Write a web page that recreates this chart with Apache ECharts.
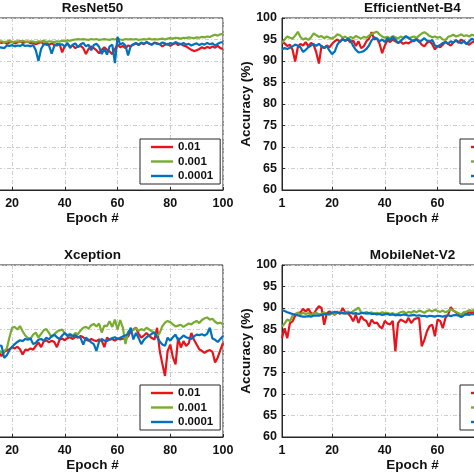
<!DOCTYPE html>
<html>
<head>
<meta charset="utf-8">
<script src="https://cdn.jsdelivr.net/npm/echarts@6.0.0/dist/echarts.min.js"></script>
<style>
html, body { margin: 0; padding: 0; background: #fff; }
#main { width: 474px; height: 474px; }
</style>
</head>
<body>
<div id="main"></div>
<script>
var epochs = [];
for (var e = 1; e <= 100; e++) epochs.push(e);

var lrNames = ['0.01', '0.001', '0.0001'];
var lrColors = ['#e8141c', '#77ac30', '#0072bd'];
var xTicks = [1, 20, 40, 60, 80, 100];
var panelTitles = ['ResNet50', 'EfficientNet-B4', 'Xception', 'MobileNet-V2'];

// ResNet50
var resnetRed = [
    93.5, 94.0, 93.8, 94.2, 93.6, 94.3, 94.0, 93.7, 94.4, 94.1,
    93.9, 94.5, 94.2, 94.0, 94.3, 94.2, 94.4, 94.0, 94.3, 94.5,
    94.1, 94.3, 94.6, 94.2, 94.4, 94.5, 94.1, 94.3, 93.9, 94.2,
    94.4, 94.0, 94.2, 93.8, 94.1, 93.8, 93.6, 94.0, 92.0, 93.5,
    94.1, 93.3, 93.6, 93.0, 93.4, 93.5, 93.0, 91.6, 92.8, 93.4,
    93.0, 92.5, 91.8, 92.6, 93.2, 92.6, 92.2, 91.6, 92.8, 93.8,
    93.2, 93.5, 93.0, 93.6, 93.4, 93.8, 94.1, 93.7, 94.2, 93.9,
    94.4, 94.0, 93.8, 94.3, 94.1, 93.9, 93.4, 93.8, 94.0, 93.5,
    93.9, 94.2, 93.7, 94.0, 93.6, 93.4, 93.0, 92.6, 92.3, 92.5,
    92.8, 93.2, 92.9, 93.3, 93.0, 93.4, 93.1, 93.5, 93.0, 92.8
];
var resnetGreen = [
    93.8, 94.1, 94.3, 94.2, 94.5, 94.3, 94.6, 94.4, 94.2, 94.5,
    94.7, 94.4, 94.6, 94.3, 94.5, 94.6, 94.4, 94.5, 94.7, 94.3,
    94.5, 94.6, 94.4, 94.7, 94.5, 94.4, 94.6, 94.5, 94.3, 94.6,
    94.5, 94.7, 94.4, 94.6, 94.5, 94.4, 94.6, 94.5, 94.7, 94.6,
    94.8, 94.7, 94.9, 95.0, 95.1, 95.0, 95.1, 95.0, 94.9, 95.1,
    95.0, 95.1, 94.9, 95.0, 95.1, 95.0, 94.9, 95.1, 95.0, 95.2,
    95.0, 94.9, 95.1, 95.0, 95.1, 95.0, 95.1, 94.9, 95.0, 95.1,
    95.0, 95.2, 95.0, 95.1, 95.0, 95.1, 95.2, 95.0, 95.2, 95.3,
    95.2, 95.4, 95.3, 95.2, 95.4, 95.3, 95.5, 95.4, 95.3, 95.5,
    95.4, 95.6, 95.5, 95.7, 95.6, 95.9, 96.1, 95.9, 96.2, 96.3
];
var resnetBlue = [
    92.8, 93.2, 93.0, 93.5, 93.3, 93.1, 93.6, 93.4, 93.2, 93.7,
    93.5, 93.3, 93.6, 93.4, 93.2, 93.1, 93.0, 93.6, 93.5, 93.7,
    93.4, 93.6, 93.5, 93.8, 93.5, 93.6, 93.4, 93.7, 92.5, 90.0,
    92.8, 93.9, 93.8, 93.6, 91.7, 93.5, 94.0, 93.8, 93.9, 93.3,
    94.2, 93.0, 93.8, 94.1, 93.2, 93.9, 94.2, 93.4, 93.8, 92.5,
    93.7, 94.0, 93.3, 91.6, 92.8, 91.5, 93.4, 93.8, 89.5, 95.6,
    93.8, 94.2, 93.6, 91.3, 93.5, 93.9, 94.2, 93.8, 94.3, 94.0,
    94.4, 94.1, 93.8, 94.2, 94.0, 93.9, 94.3, 94.1, 93.8, 94.2,
    94.0, 94.4, 94.1, 93.9, 94.2, 93.8, 94.0, 93.6, 93.9, 94.1,
    93.7, 94.0, 93.8, 94.2, 93.9, 94.1, 93.6, 94.0, 94.3, 94.4
];

// EfficientNet-B4
var effRed = [
    94.3, 94.1, 93.5, 93.8, 92.6, 89.9, 93.2, 94.0, 93.6, 94.4,
    93.4, 94.2, 93.8, 92.0, 89.4, 93.5, 93.0, 93.6, 93.2, 94.0,
    94.6, 95.0, 94.4, 95.2, 94.7, 95.0, 94.3, 94.8, 93.5, 94.6,
    93.0, 93.4, 94.6, 95.2, 96.7, 95.0, 95.3, 94.0, 91.8, 93.6,
    94.8, 94.4, 95.0, 94.6, 94.2, 94.5, 94.0, 94.3, 94.1, 94.5,
    94.8, 95.2, 94.6, 93.8, 93.4, 94.2, 94.6, 93.9, 92.7, 93.5,
    93.2, 93.8, 94.5, 94.0, 93.6, 94.3, 94.8, 94.2, 95.0, 94.4,
    94.1, 93.8, 94.3, 94.6, 94.0, 94.5, 94.2, 94.8, 94.3, 94.6,
    94.4, 94.9, 94.5, 94.2, 94.7, 94.3, 94.8, 94.5, 94.9, 94.6,
    94.8, 94.4, 95.0, 94.7, 94.5, 94.9, 94.6, 95.1, 94.8, 95.0
];
var effGreen = [
    94.2, 95.0, 95.7, 95.4, 95.2, 95.9, 96.8, 95.6, 95.0, 95.3,
    94.9, 95.5, 96.4, 96.0, 95.6, 95.8, 95.3, 95.7, 95.4, 95.2,
    95.6, 96.2, 96.0, 95.4, 95.7, 95.2, 95.6, 95.3, 95.8, 95.5,
    95.2, 95.6, 95.4, 95.9, 96.3, 96.6, 96.8, 96.2, 95.7, 95.4,
    95.6, 95.3, 95.8, 95.5, 95.2, 95.7, 95.4, 95.6, 95.3, 95.5,
    95.7, 95.4, 95.9, 96.4, 96.7, 96.3, 95.8, 95.5, 95.7, 95.4,
    95.6, 95.0, 94.9, 95.6, 95.8, 96.1, 95.7, 95.9, 96.2, 95.8,
    96.0, 95.7, 96.1, 95.9, 96.2, 95.8, 96.0, 96.3, 95.9, 96.1,
    96.0, 96.2, 95.9, 96.3, 96.1, 95.8, 96.2, 96.0, 96.4, 96.1,
    96.2, 95.9, 96.3, 96.0, 96.2, 96.4, 96.1, 96.3, 96.0, 96.2
];
var effBlue = [
    92.7, 93.0, 92.8, 93.1, 93.4, 93.8, 93.6, 93.2, 92.1, 92.6,
    93.2, 93.6, 93.9, 93.5, 94.0, 93.4, 93.0, 93.5, 92.4, 91.6,
    92.2, 93.8, 94.6, 95.0, 94.7, 95.2, 94.8, 93.5, 92.6, 92.0,
    92.1, 92.3, 92.8, 93.6, 94.8, 95.5, 95.2, 94.6, 95.0, 94.4,
    95.3, 94.8, 95.6, 95.0, 94.2, 94.7, 95.2, 95.8, 95.4, 94.9,
    94.6, 95.0, 94.4, 94.8, 95.3, 94.7, 94.5, 94.9, 93.6, 93.4,
    93.7, 94.2, 94.4, 94.0, 94.6, 94.3, 94.8, 94.5, 94.1, 94.7,
    93.9, 94.6, 95.2, 94.8, 94.5, 94.9, 94.6, 95.0, 94.7, 94.9,
    94.6, 95.1, 94.8, 94.5, 95.0, 94.7, 95.2, 94.9, 94.6, 95.0,
    94.8, 95.1, 94.7, 95.0, 94.9, 95.2, 94.8, 95.1, 94.9, 95.0
];

// Xception
var xcpRed = [
    75.0, 76.2, 77.1, 76.5, 77.8, 78.3, 77.6, 78.8, 79.4, 78.7,
    79.6, 80.3, 79.5, 80.6, 79.8, 78.8, 79.8, 80.1, 80.4, 80.9,
    80.6, 81.0, 80.4, 79.2, 80.3, 80.2, 80.6, 80.3, 81.2, 82.0,
    80.9, 82.2, 82.5, 82.0, 82.4, 82.1, 80.9, 82.6, 82.9, 82.5,
    83.0, 83.2, 82.8, 83.3, 83.1, 83.5, 83.2, 82.6, 82.4, 82.8,
    82.5, 82.3, 82.7, 82.4, 80.9, 83.1, 82.6, 82.8, 82.4, 82.9,
    82.7, 82.9, 82.9, 83.4, 84.6, 85.0, 85.4, 84.0, 83.1, 83.6,
    84.2, 83.5, 83.0, 82.7, 85.4, 80.0, 77.0, 74.2, 80.0, 81.5,
    78.5, 76.9, 83.1, 80.8, 82.3, 81.2, 81.8, 84.2, 82.6, 81.5,
    80.4, 80.0, 79.6, 80.0, 80.2, 79.8, 77.3, 78.5, 80.2, 81.9
];
var xcpGreen = [
    74.5, 76.0, 77.2, 76.8, 78.0, 77.5, 78.6, 79.2, 78.4, 79.5,
    80.1, 79.3, 80.4, 79.8, 80.2, 79.6, 80.0, 80.6, 83.2, 85.4,
    85.6, 85.0, 85.8, 84.6, 83.6, 83.0, 82.9, 83.8, 84.3, 83.1,
    84.0, 84.8, 85.1, 84.2, 83.2, 83.9, 84.5, 84.8, 85.0, 84.1,
    83.7, 84.0, 83.6, 84.2, 83.9, 84.8, 85.4, 85.6, 85.2, 86.0,
    86.3, 85.7, 86.4, 84.3, 85.9, 85.8, 86.9, 85.6, 87.3, 85.0,
    87.2, 85.5, 81.6, 84.5, 84.8, 84.9, 85.3, 84.7, 85.1, 84.8,
    85.4, 85.0, 84.6, 84.2, 83.5, 84.2, 85.8, 86.6, 87.0, 86.7,
    86.2, 85.7, 85.9, 86.1, 85.6, 86.0, 86.4, 86.2, 86.7, 87.0,
    86.5, 87.2, 87.6, 87.8, 87.3, 87.5, 86.8, 86.4, 86.6, 86.2
];
var xcpBlue = [
    77.0, 78.2, 79.0, 78.5, 79.6, 80.1, 79.4, 80.5, 81.0, 80.3,
    81.2, 80.6, 81.4, 80.8, 81.3, 81.2, 78.4, 79.0, 80.2, 81.0,
    81.6, 82.1, 82.5, 82.3, 82.8, 82.6, 82.9, 81.6, 81.9, 82.6,
    82.8, 82.4, 83.1, 82.7, 83.5, 83.8, 83.2, 82.8, 83.6, 84.2,
    83.5, 83.8, 83.4, 83.7, 83.3, 83.0, 81.5, 83.1, 82.6, 82.0,
    81.6, 80.0, 82.2, 82.8, 82.4, 82.3, 82.7, 83.0, 83.2, 82.8,
    83.1, 83.4, 83.6, 84.0, 85.4, 82.7, 84.2, 83.0, 81.6, 82.6,
    83.2, 83.6, 84.0, 84.3, 83.2, 82.2, 81.5, 81.2, 83.1, 82.4,
    83.2, 83.8, 82.5, 83.0, 83.6, 83.2, 83.0, 82.8, 83.4, 83.8,
    83.7, 83.9, 83.6, 84.0, 85.4, 82.9, 82.6, 82.1, 82.8, 83.5
];

// MobileNet-V2
var mobRed = [
    83.0, 85.3, 83.0, 86.5, 86.9, 88.2, 88.8, 89.0, 89.8, 89.2,
    89.8, 88.8, 88.6, 89.6, 90.4, 90.0, 86.1, 88.8, 89.2, 88.8,
    88.4, 89.2, 88.6, 90.0, 89.0, 88.8, 88.1, 86.9, 88.5, 86.5,
    88.1, 87.3, 87.0, 85.7, 87.3, 86.5, 86.6, 85.7, 85.3, 87.0,
    86.4, 86.2, 87.0, 79.9, 86.5, 87.3, 87.0, 86.6, 87.7, 86.5,
    87.3, 87.6, 87.7, 81.1, 82.6, 84.6, 85.8, 86.1, 83.4, 87.3,
    87.0, 85.3, 87.7, 88.4, 90.2, 89.4, 89.0, 88.6, 88.4, 89.0,
    88.6, 89.0, 88.8, 89.1, 88.7, 89.2, 88.9, 89.4, 88.6, 89.0,
    89.3, 88.8, 89.1, 88.7, 89.2, 88.9, 89.5, 89.0, 88.8, 89.3,
    89.1, 88.7, 89.2, 89.0, 89.4, 88.9, 89.1, 89.3, 88.8, 89.2
];
var mobGreen = [
    85.7, 86.4, 87.3, 87.0, 88.2, 88.6, 88.9, 88.5, 88.9, 88.6,
    88.8, 88.4, 88.7, 88.9, 88.5, 88.7, 89.0, 88.6, 88.4, 88.8,
    88.6, 88.9, 89.1, 88.7, 88.9, 89.2, 88.8, 89.3, 89.6, 90.1,
    89.0, 88.7, 89.1, 88.8, 89.0, 88.6, 88.9, 88.7, 89.0, 88.8,
    88.9, 88.6, 88.8, 88.5, 88.7, 89.0, 89.2, 88.8, 89.1, 88.9,
    89.3, 89.0, 89.4, 89.2, 88.9, 89.3, 89.5, 89.2, 89.6, 89.3,
    89.1, 89.4, 89.0, 89.3, 89.7, 89.4, 89.1, 88.8, 88.5, 88.9,
    89.2, 89.5, 89.3, 89.6, 89.4, 89.7, 89.3, 89.6, 89.2, 89.5,
    89.8, 89.4, 89.6, 89.3, 89.7, 89.5, 89.2, 89.6, 89.4, 89.8,
    89.5, 89.3, 89.7, 89.4, 89.6, 89.9, 89.5, 89.7, 89.4, 89.6
];
var mobBlue = [
    89.5, 89.3, 89.0, 88.8, 88.6, 88.4, 88.3, 88.1, 88.0, 88.0,
    88.1, 88.0, 88.2, 88.3, 88.2, 88.4, 88.5, 88.6, 88.7, 88.9,
    89.1, 88.9, 88.8, 88.9, 88.7, 88.8, 88.9, 88.7, 88.8, 88.6,
    88.8, 88.9, 88.7, 88.8, 88.6, 88.7, 88.5, 88.6, 88.4, 88.5,
    88.6, 88.4, 88.5, 88.3, 88.4, 88.3, 88.5, 88.4, 88.2, 88.3,
    88.4, 88.2, 88.3, 88.1, 88.2, 88.0, 88.2, 88.1, 88.0, 88.2,
    88.1, 88.0, 88.2, 88.3, 88.1, 88.3, 88.4, 88.2, 87.9, 88.3,
    88.5, 88.4, 88.6, 88.5, 88.4, 88.6, 88.5, 88.7, 88.4, 88.6,
    88.5, 88.3, 88.6, 88.4, 88.7, 88.5, 88.6, 88.4, 88.7, 88.5,
    88.6, 88.8, 88.5, 88.7, 88.6, 88.4, 88.7, 88.5, 88.8, 88.6
];

var panelData = [
    [resnetRed, resnetGreen, resnetBlue],
    [effRed, effGreen, effBlue],
    [xcpRed, xcpGreen, xcpBlue],
    [mobRed, mobGreen, mobBlue]
];

// the source figure is cropped: left panels start off-canvas, right ones run past it
var panelBoxes = [
    {left: -38, top: 18},
    {left: 282, top: 18},
    {left: -38, top: 265},
    {left: 282, top: 265}
];
var boxW = 261, boxH = 172;
var fontName = '"Liberation Sans", Arial, sans-serif';
var inkColor = '#111';

function textStyle(size) {
    return {fontFamily: fontName, fontWeight: 'bold', fontSize: size, color: inkColor};
}

function buildOption() {
    var grids = [], xAxes = [], yAxes = [], series = [], legends = [], titles = [];

    panelBoxes.forEach(function (box, i) {
        grids.push({
            left: box.left, top: box.top, width: boxW, height: boxH,
            show: true, borderColor: '#262626', borderWidth: 1,
            outerBoundsMode: 'none', containLabel: false
        });
        xAxes.push({
            gridIndex: i, type: 'value', min: 1, max: 100,
            name: 'Epoch #', nameLocation: 'middle', nameGap: 21, nameMoveOverlap: false,
            nameTextStyle: textStyle(13.5),
            axisLine: {show: true, onZero: false, lineStyle: {color: '#262626'}},
            axisTick: {show: true, inside: true, length: 3, customValues: xTicks, lineStyle: {color: '#262626'}},
            axisLabel: Object.assign({customValues: xTicks, margin: 7}, textStyle(12.5)),
            splitLine: {show: true, lineStyle: {color: '#cdcdcd', width: 1, type: [4, 2, 1, 2]}}
        });
        yAxes.push({
            gridIndex: i, type: 'value', min: 60, max: 100, interval: 5,
            name: 'Accuracy (%)', nameLocation: 'middle', nameGap: 29, nameMoveOverlap: false,
            nameTextStyle: textStyle(13.5),
            axisLine: {show: true, lineStyle: {color: '#262626'}},
            axisTick: {show: true, inside: true, length: 3, lineStyle: {color: '#262626'}},
            axisLabel: Object.assign({margin: 5}, textStyle(12.5)),
            splitLine: {show: true, lineStyle: {color: '#cdcdcd', width: 1, type: [4, 2, 1, 2]}}
        });
        panelData[i].forEach(function (vals, k) {
            series.push({
                type: 'line', name: lrNames[k],
                xAxisIndex: i, yAxisIndex: i,
                data: epochs.map(function (ep, j) { return [ep, vals[j]]; }),
                symbol: 'none', clip: true,
                lineStyle: {width: 2.2, color: lrColors[k]},
                itemStyle: {color: lrColors[k]},
                emphasis: {disabled: true}
            });
        });
        legends.push({
            orient: 'vertical', left: box.left + 178, top: box.top + (i < 2 ? 121 : 120),
            data: lrNames, selectedMode: false,
            icon: 'rect', itemWidth: 22, itemHeight: 2.4, itemGap: 0.5,
            padding: [1, 7, 1, 11],
            borderColor: '#262626', borderWidth: 1, backgroundColor: '#fff',
            textStyle: Object.assign({lineHeight: 14}, textStyle(11.5))
        });
        titles.push({
            type: 'text', x: box.left + boxW / 2, y: box.top - 10,
            style: {
                text: panelTitles[i], font: 'bold 13.5px ' + fontName, fill: inkColor,
                align: 'center', verticalAlign: 'middle',
                textAlign: 'center', textVerticalAlign: 'middle'
            }
        });
    });

    return {
        animation: false,
        backgroundColor: '#fff',
        grid: grids,
        xAxis: xAxes,
        yAxis: yAxes,
        legend: legends,
        series: series,
        graphic: titles
    };
}

var chart = echarts.init(document.getElementById('main'));
chart.setOption(buildOption());
</script>
</body>
</html>
